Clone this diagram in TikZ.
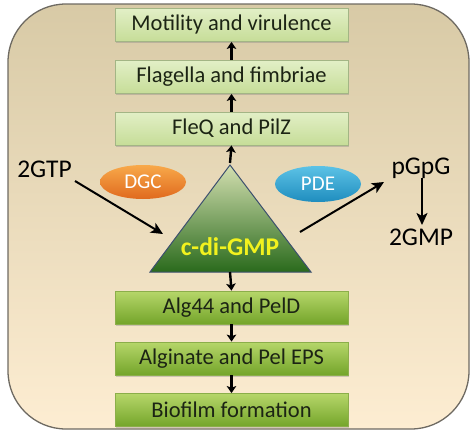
\documentclass[tikz,border=0pt]{standalone}
\usepackage{fontspec}
\setmainfont{Carlito}
\usetikzlibrary{arrows.meta,shadows,shapes.geometric}
\definecolor{bgtop}{HTML}{D8CAA6}
\definecolor{bgbot}{HTML}{FDEDD2}
\definecolor{bgline}{HTML}{6E6A62}
\definecolor{ltop}{HTML}{E2EFC6}
\definecolor{lbot}{HTML}{C6DD98}
\definecolor{lline}{HTML}{A3B585}
\definecolor{dtop}{HTML}{B6D66A}
\definecolor{dbot}{HTML}{74A52A}
\definecolor{dline}{HTML}{8BAE4A}
\definecolor{tritop}{HTML}{D3DFB0}
\definecolor{tribot}{HTML}{2A6A1C}
\definecolor{triline}{HTML}{3C4F6E}
\definecolor{orgtop}{HTML}{F8A94A}
\definecolor{orgbot}{HTML}{E06A1E}
\definecolor{blutop}{HTML}{5CC2E6}
\definecolor{blubot}{HTML}{1F8DBE}
\definecolor{ylw}{HTML}{F2F21E}
\definecolor{txt}{HTML}{1C2414}
\begin{document}
\begin{tikzpicture}[x=1pt,y=-1pt,
  boxbase/.style={minimum width=233pt, minimum height=33pt, inner sep=0pt, line width=0.8pt,
    font=\fontsize{22.5}{24}\selectfont, text=txt,
    drop shadow={shadow xshift=1pt, shadow yshift=-1.5pt, opacity=0.35}},
  lightbox/.style={boxbase, draw=lline, top color=ltop, bottom color=lbot},
  darkbox/.style={boxbase, draw=dline, top color=dtop, bottom color=dbot},
  enz/.style={ellipse, minimum width=86pt, minimum height=34pt, inner sep=0pt,
    text=white, font=\fontsize{21}{23}\selectfont},
  lbl/.style={inner sep=0pt, font=\fontsize{25.5}{27}\selectfont, text=black},
  smallarr/.style={line width=2.4pt, -{Stealth[length=7pt,width=9.5pt,inset=1.5pt]}},
  bigarr/.style={line width=2pt, -{Stealth[length=12pt,width=11pt,inset=3pt]}}
]
\useasboundingbox (0,0) rectangle (474,434);
% background
\path[draw=bgline, line width=1.3pt, rounded corners=58pt, top color=bgtop, bottom color=bgbot]
  (8,4) rectangle (469,429);

% boxes
\node[lightbox] (mot) at (231.5,25) {Motility and virulence};
\node[lightbox] (fla) at (231.5,77) {Flagella and fimbriae};
\node[lightbox] (fle) at (231.5,128.5) {FleQ and PilZ};
\node[darkbox] (alg) at (231.5,307.5) {Alg44 and PelD};
\node[darkbox] (algp) at (231.5,358.5) {Alginate and Pel EPS};
\node[darkbox] (bio) at (231.5,410) {Biofilm formation};

% triangle
\coordinate (apex) at (230,165);
\coordinate (bl) at (150,272);
\coordinate (br) at (311,272);
\coordinate (basemid) at (230,272);
\coordinate (apexT) at (230,163);
\path[draw=triline, line width=1pt, top color=tritop, bottom color=tribot]
  (apex) -- (br) -- (bl) -- cycle;
\node[inner sep=0pt, text=ylw, font=\fontsize{25.5}{27}\selectfont\bfseries] (cdg) at (230,247) {c-di-GMP};

% enzymes
\node[enz, top color=orgtop, bottom color=orgbot] (dgc) at (143,182) {DGC};
\node[enz, top color=blutop, bottom color=blubot, minimum height=36pt] (pde) at (318,184) {PDE};

% labels
\node[lbl] (gtp) at (44.5,169) {2GTP};
\node[lbl] (pgpg) at (421,168) {pGpG};
\node[lbl] (gmp) at (421,237) {2GMP};

% free ends
\coordinate (gtpS) at (75,181);
\coordinate (gtpE) at (163,234);
\coordinate (pdeS) at (300,232);
\coordinate (pdeE) at (384,182);
\coordinate (pgS) at (422,178);
\coordinate (pgE) at (422,225);

% connectors
\draw[smallarr] (fla.north) -- (mot.south);
\draw[smallarr] (fle.north) -- (fla.south);
\draw[smallarr] (apexT) -- (fle.south);
\draw[smallarr] (basemid) -- (alg.north);
\draw[smallarr] (alg.south) -- (algp.north);
\draw[smallarr] (algp.south) -- (bio.north);
\draw[bigarr] (gtpS) -- (gtpE);
\draw[bigarr] (pdeS) -- (pdeE);
\draw[bigarr] (pgS) -- (pgE);
\end{tikzpicture}
\end{document}
